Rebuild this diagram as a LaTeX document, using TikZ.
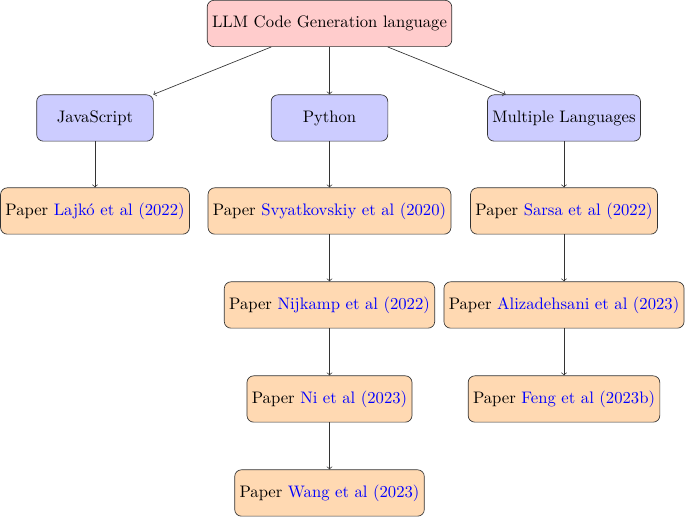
\documentclass[tikz,border=0pt]{standalone}
\usepackage{fontspec}
\begin{document}
\begin{tikzpicture}[x=0.6pt,y=-0.6pt,
  box/.style={draw=black!80, rounded corners=4pt, minimum height=27.8pt, inner xsep=2.9pt, align=center},
  rootbox/.style={box, fill=red!20},
  langbox/.style={box, fill=blue!20, minimum width=70pt},
  paperbox/.style={box, fill=orange!30},
  link/.style={->, black!80}]
\useasboundingbox (0,0) rectangle (685,517);
\node[rootbox] (root) at (329.5,23.5) {LLM Code Generation language};
\node[langbox] (js) at (95,118) {JavaScript};
\node[langbox] (py) at (329.5,118) {Python};
\node[langbox] (ml) at (564,118) {Multiple Languages};
\node[paperbox] (laj) at (95,211) {Paper \textcolor{blue}{Lajkó et al (2022)}};
\node[paperbox] (svy) at (329.5,211) {Paper \textcolor{blue}{Svyatkovskiy et al (2020)}};
\node[paperbox] (sar) at (564,211) {Paper \textcolor{blue}{Sarsa et al (2022)}};
\node[paperbox] (nij) at (329.5,305) {Paper \textcolor{blue}{Nijkamp et al (2022)}};
\node[paperbox] (ali) at (564,305) {Paper \textcolor{blue}{Alizadehsani et al (2023)}};
\node[paperbox] (ni) at (329.5,399) {Paper \textcolor{blue}{Ni et al (2023)}};
\node[paperbox] (feng) at (564,399) {Paper \textcolor{blue}{Feng et al (2023b)}};
\node[paperbox] (wang) at (329.5,493) {Paper \textcolor{blue}{Wang et al (2023)}};
\draw[link] (root) -- (js);
\draw[link] (root) -- (py);
\draw[link] (root) -- (ml);
\draw[link] (js) -- (laj);
\draw[link] (py) -- (svy);
\draw[link] (svy) -- (nij);
\draw[link] (nij) -- (ni);
\draw[link] (ni) -- (wang);
\draw[link] (ml) -- (sar);
\draw[link] (sar) -- (ali);
\draw[link] (ali) -- (feng);
\end{tikzpicture}
\end{document}
